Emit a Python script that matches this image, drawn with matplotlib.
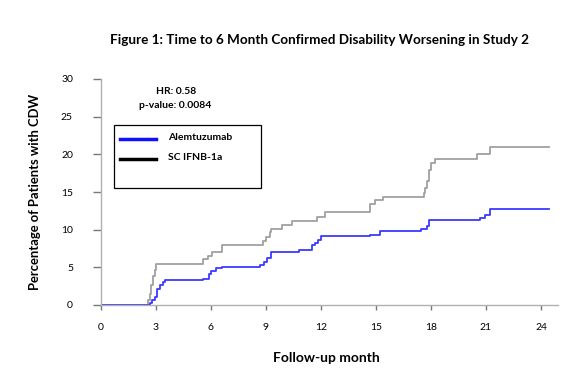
import matplotlib
matplotlib.use("Agg")
import matplotlib.pyplot as plt
from matplotlib.lines import Line2D

# Kaplan-Meier style cumulative CDW curves (months, percent)
ifnb_months = [0, 2.55, 2.65, 2.75, 2.85, 2.92, 3.0, 5.55, 5.85, 6.04, 6.6,
               8.85, 9.0, 9.2, 9.3, 9.9, 10.4, 11.8, 12.2, 14.7, 14.95, 15.4,
               17.6, 17.7, 17.8, 17.9, 18.0, 18.2, 20.5, 21.2, 24.45]
ifnb_pct = [0, 0.6, 1.5, 2.6, 3.8, 4.6, 5.4, 6.1, 6.5, 7.0, 8.0,
            8.5, 9.0, 9.7, 10.1, 10.6, 11.2, 11.7, 12.3, 13.4, 13.9, 14.4,
            14.9, 15.5, 16.5, 17.9, 18.8, 19.4, 20.0, 21.0, 21.0]

alem_months = [0, 2.7, 2.8, 2.95, 3.04, 3.2, 3.37, 3.5, 5.58, 5.9, 6.0, 6.26,
               6.6, 8.67, 8.9, 9.04, 9.27, 10.8, 11.5, 11.7, 11.85, 12.0,
               14.7, 15.2, 17.46, 17.8, 17.9, 20.7, 20.95, 21.2, 24.45]
alem_pct = [0, 0.3, 0.7, 1.1, 2.1, 2.7, 3.0, 3.3, 3.5, 4.1, 4.5, 4.9,
            5.1, 5.3, 5.75, 6.3, 7.0, 7.3, 7.9, 8.2, 8.6, 9.1,
            9.3, 9.8, 10.1, 10.5, 11.3, 11.5, 11.95, 12.7, 12.7]

x_ticks = [0, 3, 6, 9, 12, 15, 18, 21, 24]
y_ticks = [0, 5, 10, 15, 20, 25, 30]

plt.rcParams["font.family"] = ["Lato", "DejaVu Sans"]

W, H = 567, 369
fig = plt.figure(figsize=(W / 100, H / 100), dpi=100)
ax = fig.add_axes([101 / W, (H - 305) / H, (558 - 101) / W, (305 - 79) / H])

axis_gray = "#b0b0b0"
ax.step(ifnb_months, ifnb_pct, where="post", color="#a0a0a0", lw=1.3)
ax.step(alem_months, alem_pct, where="post", color="#3a3aff", lw=1.3)

ax.set_xlim(0, 24.93)
ax.set_ylim(0, 30)
for s in ["top", "right"]:
    ax.spines[s].set_visible(False)
for s in ["left", "bottom"]:
    ax.spines[s].set_color(axis_gray)
    ax.spines[s].set_linewidth(1.0)

ax.set_xticks(x_ticks)
ax.set_yticks(y_ticks)
ax.tick_params(axis="both", colors="#777777", labelcolor="black", width=1.0,
               labelsize=7.5)
ax.tick_params(axis="x", length=3.5, pad=9.5)
ax.tick_params(axis="y", length=5.8, pad=14.4)

fig.text(35 / W, 1 - 192 / H, "Percentage of Patients with CDW", rotation=90,
         ha="center", va="center", fontsize=9.4, fontweight="bold")
fig.text(326 / W, 1 - 358 / H, "Follow-up month", ha="center", va="center",
         fontsize=10, fontweight="bold")
fig.text(320 / W, 1 - 40 / H,
         "Figure 1: Time to 6 Month Confirmed Disability Worsening in Study 2",
         ha="center", va="center", fontsize=9.7, fontweight="bold")

fig.text(176 / W, 1 - 91 / H, "HR: 0.58", ha="center", va="center",
         fontsize=7.5, fontweight="bold")
fig.text(175 / W, 1 - 105 / H, "p-value: 0.0084", ha="center", va="center",
         fontsize=7.5, fontweight="bold")

# legend box drawn by hand to match the boxed layout
box = plt.Rectangle((114 / W, 1 - 188 / H), (261 - 114) / W, (188 - 125) / H,
                    transform=fig.transFigure, fill=False, edgecolor="black",
                    lw=0.9)
fig.add_artist(box)
fig.add_artist(Line2D([120 / W, 156 / W], [1 - 139 / H] * 2, color="#1010ff",
                      lw=2.5, transform=fig.transFigure))
fig.add_artist(Line2D([120 / W, 156 / W], [1 - 159 / H] * 2, color="black",
                      lw=2.5, transform=fig.transFigure))
fig.text(168 / W, 1 - 137 / H, "Alemtuzumab", va="center", fontsize=7.5,
         fontweight="bold")
fig.text(168 / W, 1 - 158 / H, "SC IFNB-1a", va="center", fontsize=7.5,
         fontweight="bold")

fig.savefig("out.png", dpi=100)
